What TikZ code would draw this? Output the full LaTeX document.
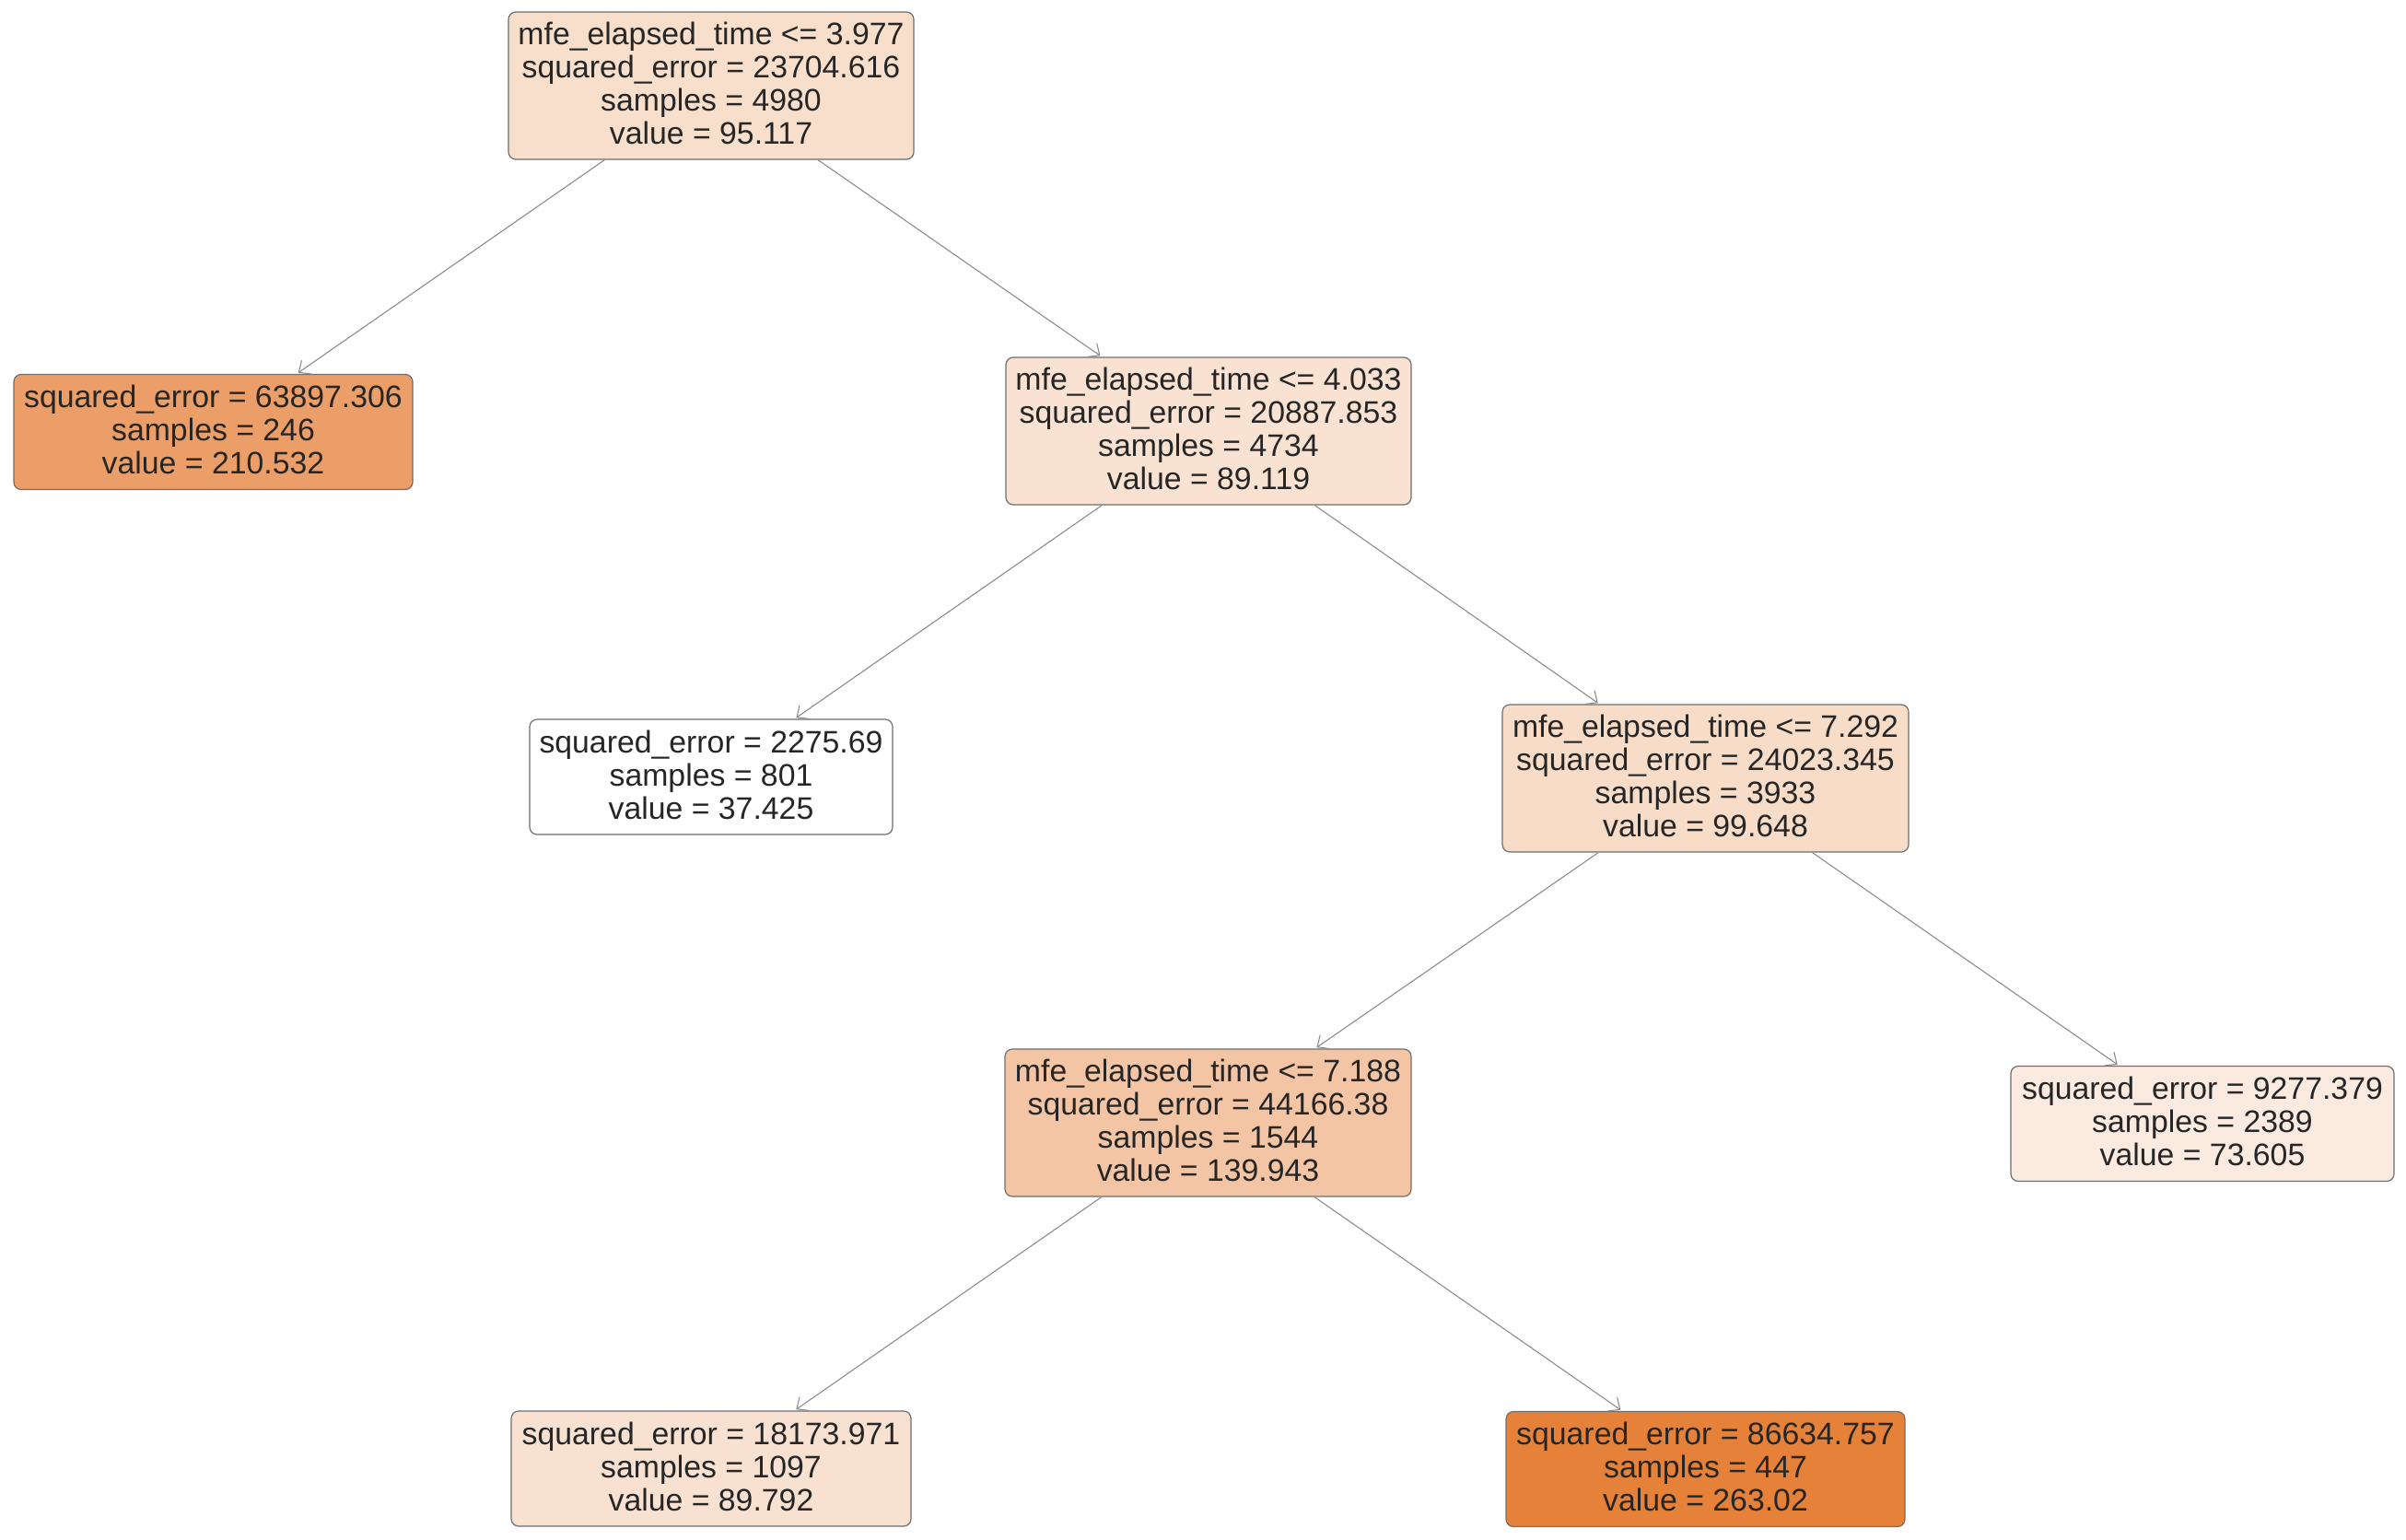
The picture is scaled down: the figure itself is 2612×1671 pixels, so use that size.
\documentclass[tikz,border=0pt]{standalone}
\usepackage{fontspec}
\setmainfont{Liberation Sans}
\usetikzlibrary{arrows.meta}
\definecolor{txt}{HTML}{262626}
\definecolor{bord}{RGB}{110,110,110}
\definecolor{edgec}{RGB}{140,140,140}
\definecolor{cRoot}{RGB}{248,223,204}
\definecolor{cA}{RGB}{235,158,103}
\definecolor{cB}{RGB}{249,226,209}
\definecolor{cC}{RGB}{255,255,255}
\definecolor{cD}{RGB}{247,220,200}
\definecolor{cE}{RGB}{243,197,165}
\definecolor{cF}{RGB}{250,234,223}
\definecolor{cG}{RGB}{248,225,209}
\definecolor{cH}{RGB}{229,129,57}
\newcommand{\lowstrut}{\rule[-2.6pt]{0pt}{1pt}}
\tikzset{
  treenode/.style={draw=bord, line width=0.6pt, rounded corners=4pt, align=center,
    text=txt, inner sep=0pt, font=\fontsize{16.9}{18.0}\selectfont},
  tall/.style={minimum height=80pt},
  short/.style={minimum height=62.5pt},
  treeedge/.style={draw=edgec, line width=0.55pt, -{Straight Barb[length=5pt,width=9pt,line width=0.55pt]}, shorten >=1pt}
}
\begin{document}
\begin{tikzpicture}[x=0.5pt,y=-0.5pt]
\useasboundingbox (0,0) rectangle (2612,1671);
\node[treenode,tall,fill=cRoot,minimum width=220pt] (root) at (772,93)
  {mfe\_elapsed\_time <= 3.977\\squared\_error = 23704.616\\samples = 4980\\value = 95.117\lowstrut};
\node[treenode,short,fill=cA,minimum width=216.5pt] (n246) at (231.5,469)
  {squared\_error = 63897.306\\samples = 246\\value = 210.532\lowstrut};
\node[treenode,tall,fill=cB,minimum width=220pt] (n4734) at (1312,468)
  {mfe\_elapsed\_time <= 4.033\\squared\_error = 20887.853\\samples = 4734\\value = 89.119\lowstrut};
\node[treenode,short,fill=cC,minimum width=197pt] (n801) at (772,843.5)
  {squared\_error = 2275.69\\samples = 801\\value = 37.425\lowstrut};
\node[treenode,tall,fill=cD,minimum width=220.5pt] (n3933) at (1851.5,845)
  {mfe\_elapsed\_time <= 7.292\\squared\_error = 24023.345\\samples = 3933\\value = 99.648\lowstrut};
\node[treenode,tall,fill=cE,minimum width=220.5pt] (n1544) at (1311.5,1219)
  {mfe\_elapsed\_time <= 7.188\\squared\_error = 44166.38\\samples = 1544\\value = 139.943\lowstrut};
\node[treenode,short,fill=cF,minimum width=208pt] (n2389) at (2391,1220)
  {squared\_error = 9277.379\\samples = 2389\\value = 73.605\lowstrut};
\node[treenode,short,fill=cG,minimum width=217pt] (n1097) at (772,1594.5)
  {squared\_error = 18173.971\\samples = 1097\\value = 89.792\lowstrut};
\node[treenode,short,fill=cH,minimum width=216.5pt] (n447) at (1851.5,1595)
  {squared\_error = 86634.757\\samples = 447\\value = 263.02\lowstrut};
\draw[treeedge] (root) -- (n246);
\draw[treeedge] (root) -- (n4734);
\draw[treeedge] (n4734) -- (n801);
\draw[treeedge] (n4734) -- (n3933);
\draw[treeedge] (n3933) -- (n1544);
\draw[treeedge] (n3933) -- (n2389);
\draw[treeedge] (n1544) -- (n1097);
\draw[treeedge] (n1544) -- (n447);
\end{tikzpicture}
\end{document}
